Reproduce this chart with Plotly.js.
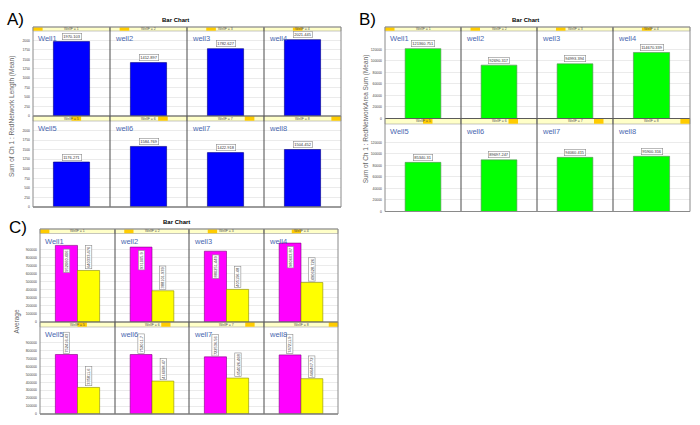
<!DOCTYPE html>
<html>
<head>
<meta charset="utf-8">
<script src="https://cdn.plot.ly/plotly-3.0.1.min.js"></script>
<style>
  html, body { margin: 0; padding: 0; background: #ffffff; }
  #chart { width: 700px; height: 425px; }
</style>
</head>
<body>
<div id="chart"></div>
<script>
// Trellis cells: one per well
const wells = ['Well1', 'well2', 'well3', 'well4', 'Well5', 'well6', 'well7', 'well8'];
const stripLabels = ['WellF = 1', 'WellF = 2', 'WellF = 3', 'WellF = 4',
                     'WellF = 5', 'WellF = 6', 'WellF = 7', 'WellF = 8'];

// A) Sum of Ch 1 : RedNetwork Length (Mean)
const lengthMean = [1970.103, 1412.897, 1782.627, 2021.445, 1176.271, 1584.769, 1422.918, 1504.452];
// B) Sum of Ch 1 : RedNetworkArea Sum (Mean)
const areaMean = [121360.751, 92690.317, 94993.394, 114670.339, 85340.31, 89697.247, 94060.415, 95900.316];
// C) Average, two measures per well
const avgMagenta = [952060.406, 931005.9, 880251.449, 980603.87, 752416.43, 752011.7, 722536.56, 747211.9];
const avgYellow = [640333.476, 388101.939, 405196.48, 490628.726, 335811.6, 416098.47, 454026.468, 446467.72];

const lengthTicks = [0, 250, 500, 750, 1000, 1250, 1500, 1750, 2000];
const areaTicks = [0, 20000, 40000, 60000, 80000, 100000, 120000];
const averageTicks = [0, 100000, 200000, 300000, 400000, 500000, 600000, 700000, 800000, 900000];

const W = 700, H = 425;
const px = x => x / W;
const py = y => 1 - y / H;

const FONT = 'Liberation Sans, Arial, sans-serif';

const panels = [
  {
    letter: 'A)', letterX: 5, letterY: 8, titleX: 175, titleY: 25,
    yTitle: 'Sum of Ch 1 : RedNetwork Length (Mean)', yTitleX: 12,
    cols: [33, 110, 187, 264, 341], strips: [[27, 31], [116, 121]], rows: [[31, 116], [121, 207]],
    range: [0, 2250], ticks: lengthTicks, barWidth: 0.47,
    series: [{ values: lengthMean, color: '#0000ff', line: '#000080' }]
  },
  {
    letter: 'B)', letterX: 357, letterY: 8, titleX: 525, titleY: 25,
    yTitle: 'Sum of Ch 1 : RedNetworkArea Sum (Mean)', yTitleX: 366,
    cols: [385, 461, 537, 613, 690], strips: [[27, 31], [118.5, 124]], rows: [[31, 118.5], [124, 211.5]],
    range: [0, 152000], ticks: areaTicks, barWidth: 0.47,
    series: [{ values: areaMean, color: '#00ff00', line: '#5a8a5a' }]
  },
  {
    letter: 'C)', letterX: 7, letterY: 216, titleX: 176, titleY: 227,
    yTitle: 'Average', yTitleX: 16,
    cols: [40, 115, 189, 264, 338], strips: [[229, 233.5], [322, 327]], rows: [[233.5, 322], [327, 414]],
    range: [0, 1100000], ticks: averageTicks, barWidth: null, rotateLabels: true,
    series: [
      { values: avgMagenta, color: '#ff00ff', line: '#800080' },
      { values: avgYellow, color: '#ffff00', line: '#8a8a00' }
    ]
  }
];

const BARGAP = 0.41;
const data = [];
const layout = {
  width: W, height: H,
  margin: { l: 0, r: 0, t: 0, b: 0 },
  paper_bgcolor: '#ffffff', plot_bgcolor: '#ffffff',
  showlegend: false,
  barmode: 'group', bargap: BARGAP, bargroupgap: 0,
  font: { family: FONT, color: '#333333' },
  annotations: [], shapes: []
};

let k = 0;
panels.forEach(p => {
  // panel letter and title
  layout.annotations.push({
    xref: 'paper', yref: 'paper', x: px(p.letterX), y: py(p.letterY),
    xanchor: 'left', yanchor: 'top', showarrow: false, text: p.letter,
    font: { family: FONT, size: 17, color: '#000000' }
  });
  layout.annotations.push({
    xref: 'paper', yref: 'paper', x: px(p.titleX), y: py(p.titleY),
    xanchor: 'center', yanchor: 'bottom', showarrow: false, text: '<b>Bar Chart</b>',
    font: { family: FONT, size: 6, color: '#000000' }
  });
  // y axis title
  const midY = (p.strips[0][0] + p.rows[1][1]) / 2;
  layout.annotations.push({
    xref: 'paper', yref: 'paper', x: px(p.yTitleX), y: py(midY),
    xanchor: 'center', yanchor: 'middle', showarrow: false, textangle: -90,
    text: p.yTitle, font: { family: FONT, size: 6.5, color: '#666666' }
  });

  const rowH = p.rows[0][1] - p.rows[0][0];
  const span = p.range[1] - p.range[0];

  for (let i = 0; i < wells.length; i++) {
    k++;
    const r = Math.floor(i / 4), c = i % 4;
    const xa = k === 1 ? 'xaxis' : 'xaxis' + k;
    const ya = k === 1 ? 'yaxis' : 'yaxis' + k;
    const xr = k === 1 ? 'x' : 'x' + k;
    const yr = k === 1 ? 'y' : 'y' + k;
    const x0 = p.cols[c], x1 = p.cols[c + 1];
    const [top, bot] = p.rows[r];

    layout[xa] = {
      domain: [px(x0), px(x1)], anchor: yr, type: 'category', range: [-0.5, 0.5],
      showticklabels: false, showgrid: false, zeroline: false, showline: false, ticks: '', fixedrange: true
    };
    layout[ya] = {
      domain: [py(bot), py(top)], anchor: xr, range: p.range, tickvals: p.ticks, tickformat: 'd',
      showticklabels: c === 0, ticks: '', showgrid: true, gridcolor: '#e2e2e2', gridwidth: 0.7,
      zeroline: false, showline: false, fixedrange: true, ticklabelstandoff: 2,
      tickfont: { family: FONT, size: 3.4, color: '#444444' }
    };

    const nS = p.series.length;
    p.series.forEach((s, j) => {
      const tr = {
        type: 'bar', x: [wells[i]], y: [s.values[i]], xaxis: xr, yaxis: yr,
        marker: { color: s.color, line: { color: s.line, width: 0.6 } },
        hoverinfo: 'skip', showlegend: false
      };
      if (p.barWidth) tr.width = p.barWidth;
      data.push(tr);

      const v = s.values[i];
      if (p.rotateLabels) {
        const off = (j - (nS - 1) / 2) * (1 - BARGAP) / nS;
        const room = (p.range[1] - v) / span * rowH;
        const above = room > 23;
        layout.annotations.push({
          xref: xr, yref: yr, x: off, y: v, showarrow: false, textangle: -90,
          xanchor: 'center', yanchor: above ? 'bottom' : 'top', yshift: above ? 1 : -3,
          text: String(v), bgcolor: '#ffffff', bordercolor: '#8c8c8c', borderwidth: 0.6, borderpad: 0.6,
          font: { family: FONT, size: 4, color: '#333333' }
        });
      } else {
        layout.annotations.push({
          xref: xr, yref: yr, x: wells[i], y: v, showarrow: false,
          xanchor: 'center', yanchor: 'bottom', yshift: 1.5,
          text: String(v), bgcolor: '#ffffff', bordercolor: '#8c8c8c', borderwidth: 0.6, borderpad: 0.6,
          font: { family: FONT, size: 4, color: '#333333' }
        });
      }
    });

    // cell name
    layout.annotations.push({
      xref: 'paper', yref: 'paper', x: px(x0 + 2.5), y: py(top + 1),
      xanchor: 'left', yanchor: 'top', showarrow: false, text: wells[i],
      font: { family: FONT, size: 7.5, color: '#4a68b0' }
    });

    // strip header with position marker
    const [s0, s1] = p.strips[r];
    const cw = x1 - x0;
    layout.shapes.push({
      type: 'rect', xref: 'paper', yref: 'paper', x0: px(x0), x1: px(x1), y0: py(s1), y1: py(s0),
      fillcolor: '#ffffc8', line: { color: '#a0a0a0', width: 0.6 }, layer: 'above'
    });
    layout.shapes.push({
      type: 'rect', xref: 'paper', yref: 'paper',
      x0: px(x0 + cw * i / wells.length), x1: px(x0 + cw * (i + 1) / wells.length),
      y0: py(s1 - 0.3), y1: py(s0 + 0.3),
      fillcolor: '#ffcc00', line: { width: 0 }, layer: 'above'
    });
    layout.annotations.push({
      xref: 'paper', yref: 'paper', x: px((x0 + x1) / 2), y: py((s0 + s1) / 2),
      xanchor: 'center', yanchor: 'middle', showarrow: false, text: stripLabels[i],
      font: { family: FONT, size: 3.5, color: '#555555' }
    });
  }

  // column dividers
  for (let c = 1; c < 4; c++) {
    layout.shapes.push({
      type: 'line', xref: 'paper', yref: 'paper', x0: px(p.cols[c]), x1: px(p.cols[c]),
      y0: py(p.rows[1][1]), y1: py(p.strips[0][0]), line: { color: '#4a4a4a', width: 1 }, layer: 'above'
    });
  }
  // row baselines
  p.rows.forEach(rw => {
    layout.shapes.push({
      type: 'line', xref: 'paper', yref: 'paper', x0: px(p.cols[0]), x1: px(p.cols[4]),
      y0: py(rw[1]), y1: py(rw[1]), line: { color: '#5a5a5a', width: 1 }, layer: 'above'
    });
  });
  // outer frame
  layout.shapes.push({
    type: 'rect', xref: 'paper', yref: 'paper', x0: px(p.cols[0]), x1: px(p.cols[4]),
    y0: py(p.rows[1][1]), y1: py(p.strips[0][0]), line: { color: '#8a8a8a', width: 1 }, layer: 'above'
  });
});

Plotly.newPlot('chart', data, layout, { staticPlot: true, displayModeBar: false });
</script>
</body>
</html>
